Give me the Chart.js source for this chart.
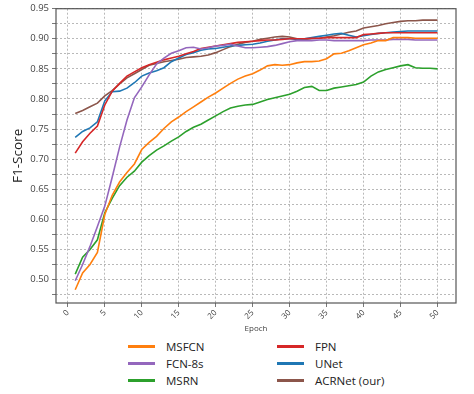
<!DOCTYPE html>
<html>
<head>
<meta charset="utf-8">
<script src="https://cdn.jsdelivr.net/npm/chart.js@4"></script>
<style>
  body { margin: 0; background: #fff; }
  #wrap { position: relative; width: 474px; height: 394px; }
  #chart { position: absolute; left: 0; top: 0; }
  #legend { position: absolute; left: 128px; top: 338px; font-family: "Open Sans", sans-serif; font-size: 11.5px; color: #222; }
  .item { position: absolute; width: 140px; height: 17px; }
  .item span.line { position: absolute; left: 0; top: 7px; width: 27px; height: 3px; }
  .item span.txt { position: absolute; left: 38px; top: 0; line-height: 17px; white-space: nowrap; }
</style>
</head>
<body>
<div id="wrap">
  <canvas id="chart" width="474" height="338"></canvas>
  <div id="legend"></div>
</div>
<script>
const epochs = Array.from({ length: 50 }, (_, i) => i + 1);

const seriesNames = ['MSFCN', 'FCN-8s', 'MSRN', 'FPN', 'UNet', 'ACRNet (our)'];
const seriesColors = ['#ff7f0e', '#9467bd', '#2ca02c', '#d62728', '#1f77b4', '#8c564b'];

const msfcn = [0.483, 0.511, 0.525, 0.545, 0.608, 0.640, 0.662, 0.678, 0.692, 0.716,
  0.728, 0.738, 0.751, 0.762, 0.770, 0.779, 0.787, 0.795, 0.803, 0.810,
  0.818, 0.826, 0.833, 0.838, 0.842, 0.848, 0.855, 0.857, 0.856, 0.857,
  0.860, 0.862, 0.862, 0.863, 0.867, 0.875, 0.876, 0.880, 0.885, 0.890,
  0.893, 0.897, 0.897, 0.902, 0.902, 0.902, 0.901, 0.901, 0.901, 0.901];
const fcn8s = [0.498, 0.525, 0.555, 0.588, 0.622, 0.670, 0.720, 0.765, 0.802, 0.820,
  0.840, 0.858, 0.868, 0.876, 0.880, 0.885, 0.886, 0.883, 0.885, 0.888,
  0.889, 0.891, 0.888, 0.885, 0.885, 0.886, 0.887, 0.889, 0.892, 0.895,
  0.897, 0.897, 0.897, 0.898, 0.898, 0.897, 0.897, 0.897, 0.897, 0.897,
  0.898, 0.898, 0.898, 0.899, 0.899, 0.899, 0.898, 0.898, 0.898, 0.898];
const msrn = [0.509, 0.537, 0.550, 0.566, 0.611, 0.635, 0.656, 0.670, 0.680, 0.695,
  0.706, 0.715, 0.722, 0.730, 0.737, 0.746, 0.753, 0.758, 0.765, 0.772,
  0.779, 0.785, 0.788, 0.790, 0.791, 0.795, 0.799, 0.802, 0.805, 0.808,
  0.813, 0.819, 0.821, 0.814, 0.814, 0.818, 0.820, 0.822, 0.824, 0.828,
  0.838, 0.845, 0.849, 0.852, 0.855, 0.857, 0.852, 0.851, 0.851, 0.850];
const fpn = [0.710, 0.729, 0.743, 0.755, 0.790, 0.813, 0.826, 0.838, 0.845, 0.852,
  0.857, 0.861, 0.865, 0.868, 0.871, 0.875, 0.879, 0.884, 0.886, 0.888,
  0.890, 0.892, 0.894, 0.895, 0.896, 0.897, 0.898, 0.898, 0.899, 0.900,
  0.900, 0.900, 0.901, 0.901, 0.902, 0.902, 0.902, 0.902, 0.902, 0.907,
  0.908, 0.909, 0.910, 0.910, 0.910, 0.910, 0.910, 0.910, 0.910, 0.910];
const unet = [0.736, 0.746, 0.752, 0.762, 0.797, 0.812, 0.813, 0.818, 0.827, 0.838,
  0.843, 0.847, 0.852, 0.862, 0.868, 0.874, 0.877, 0.881, 0.883, 0.884,
  0.886, 0.888, 0.889, 0.890, 0.891, 0.893, 0.896, 0.898, 0.900, 0.900,
  0.899, 0.900, 0.902, 0.904, 0.906, 0.908, 0.909, 0.906, 0.903, 0.905,
  0.907, 0.909, 0.910, 0.911, 0.912, 0.913, 0.913, 0.913, 0.913, 0.913];
const acrnet = [0.776, 0.781, 0.787, 0.793, 0.805, 0.814, 0.825, 0.835, 0.842, 0.849,
  0.856, 0.859, 0.862, 0.864, 0.866, 0.869, 0.870, 0.871, 0.873, 0.877,
  0.882, 0.887, 0.891, 0.894, 0.896, 0.899, 0.901, 0.903, 0.904, 0.903,
  0.900, 0.899, 0.900, 0.901, 0.903, 0.905, 0.908, 0.911, 0.913, 0.918,
  0.920, 0.922, 0.925, 0.927, 0.929, 0.930, 0.930, 0.931, 0.931, 0.931];

const seriesValues = [msfcn, fcn8s, msrn, fpn, unet, acrnet];

const xTicks = [0, 5, 10, 15, 20, 25, 30, 35, 40, 45, 50];
const yTicks = [0.475, 0.50, 0.525, 0.55, 0.575, 0.60, 0.625, 0.65, 0.675, 0.70,
  0.725, 0.75, 0.775, 0.80, 0.825, 0.85, 0.875, 0.90, 0.925, 0.95];

const gridGray = '#a8a8a8';
const axisGray = '#555';

// frame round the plot area
const framePlugin = {
  id: 'frame',
  afterDatasetsDraw(chart) {
    const a = chart.chartArea;
    const c = chart.ctx;
    c.save();
    c.strokeStyle = axisGray;
    c.lineWidth = 1.2;
    c.strokeRect(a.left, a.top, a.right - a.left, a.bottom - a.top);
    c.restore();
  }
};

const datasets = seriesNames.map((name, i) => ({
  label: name,
  data: epochs.map((e, j) => ({ x: e, y: seriesValues[i][j] })),
  borderColor: seriesColors[i],
  backgroundColor: seriesColors[i],
  borderWidth: 1.6,
  pointRadius: 0,
  tension: 0
}));

new Chart(document.getElementById('chart'), {
  type: 'line',
  data: { datasets },
  plugins: [framePlugin],
  options: {
    responsive: false,
    animation: false,
    layout: { padding: { top: 6, right: 18, bottom: 0, left: 0 } },
    plugins: { legend: { display: false }, tooltip: { enabled: false } },
    scales: {
      x: {
        type: 'linear',
        min: -1.6,
        max: 52.5,
        afterBuildTicks: s => { s.ticks = xTicks.map(v => ({ value: v })); },
        afterFit: s => { s.height = 35; },
        grid: { color: gridGray, tickColor: axisGray, tickLength: 4, lineWidth: 0.8 },
        border: { display: false, dash: [2, 2] },
        ticks: {
          minRotation: 45, maxRotation: 45, padding: 1,
          font: { family: 'Open Sans', size: 8 }, color: '#444'
        },
        title: {
          display: true, text: 'Epoch', padding: { top: 0, bottom: 4 },
          font: { family: 'Open Sans', size: 8 }, color: '#444'
        }
      },
      y: {
        min: 0.461,
        max: 0.95,
        afterBuildTicks: s => { s.ticks = yTicks.map(v => ({ value: v })); },
        afterFit: s => { s.width = 56; },
        grid: { color: gridGray, tickColor: axisGray, tickLength: 4, lineWidth: 0.8 },
        border: { display: false, dash: [2, 2] },
        ticks: {
          padding: 3,
          font: { family: 'Open Sans', size: 9.5 }, color: '#444',
          callback: v => (Math.round(v * 1000) % 50 === 0 ? v.toFixed(2) : '')
        },
        title: {
          display: true, text: 'F1-Score', padding: { top: 10, bottom: 0 },
          font: { family: 'Open Sans', size: 13.5 }, color: '#222'
        }
      }
    }
  }
});

// legend in two columns of three, built from the series arrays
const legend = document.getElementById('legend');
seriesNames.forEach((name, i) => {
  const item = document.createElement('div');
  item.className = 'item';
  item.style.left = (Math.floor(i / 3) * 149) + 'px';
  item.style.top = ((i % 3) * 17) + 'px';
  item.innerHTML = '<span class="line" style="background:' + seriesColors[i] + '"></span><span class="txt">' + name + '</span>';
  legend.appendChild(item);
});
</script>
</body>
</html>
